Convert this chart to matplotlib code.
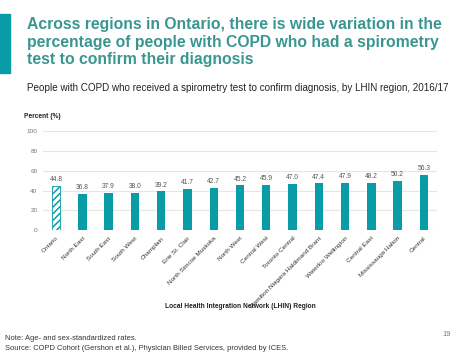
import matplotlib.pyplot as plt
import numpy as np

plt.rcParams['font.family'] = ['Liberation Sans', 'DejaVu Sans']
plt.rcParams['hatch.linewidth'] = 1.1

regions = ["Ontario", "North East", "South East", "South West", "Champlain",
           "Erie St. Clair", "North Simcoe Muskoka", "North West", "Central West",
           "Toronto Central", "Hamilton Niagara Haldimand Brant",
           "Waterloo Wellington", "Central East", "Mississauga Halton", "Central"]
percent = [44.8, 36.8, 37.9, 38.0, 39.2, 41.7, 42.7, 45.2, 45.9,
           47.0, 47.4, 47.9, 48.2, 50.2, 56.3]
yticks = [0, 20, 40, 60, 80, 100]

teal = "#0a9ca6"
title_col = "#3a9690"

fig = plt.figure(figsize=(4.74, 3.55), dpi=100)

# barre verticale a gauche du titre
fig.patches.append(plt.Rectangle((0, 1 - 73/355), 10/474, 59/355,
                                 transform=fig.transFigure, color=teal))
fig.text(27/474, 1 - 17/355,
         "Across regions in Ontario, there is wide variation in the\n"
         "percentage of people with COPD who had a spirometry\n"
         "test to confirm their diagnosis",
         fontsize=11.3, fontweight='bold', color=title_col, va='top',
         linespacing=1.22)
fig.text(27/474, 1 - 88/355,
         "People with COPD who received a spirometry test to confirm diagnosis, by LHIN region, 2016/17",
         fontsize=7.1, va='center', color='#222222')

ax = fig.add_axes([43/474, 1 - 230/355, 394/474, 98.5/355])
x = np.arange(len(regions))
bars = ax.bar(x, percent, width=0.32, color=teal, zorder=3)
bars[0].set_facecolor('white')
bars[0].set_edgecolor(teal)
bars[0].set_hatch('/////')
bars[0].set_linewidth(0.6)

for xi, v in zip(x, percent):
    ax.text(xi, v + 2.5, f"{v:.1f}", ha='center', va='bottom',
            fontsize=4.8, color='#555555')

ax.set_xlim(-0.5, len(regions) - 0.5)
ax.set_ylim(0, 100)
ax.set_yticks(yticks)
ax.set_yticklabels([str(t) for t in yticks], fontsize=4.6, color='#777777')
ax.yaxis.grid(True, color='#e6e6e6', linewidth=0.8, zorder=0)
ax.set_xticks(x)
ax.set_xticklabels(regions, rotation=45, ha='right', rotation_mode='anchor',
                   fontsize=4.6, color='#333333')
ax.tick_params(length=0, pad=4)
for s in ax.spines.values():
    s.set_visible(False)

fig.text(24/474, 1 - 116/355, "Percent (%)", fontsize=4.8, fontweight='bold',
         va='center', color='#222222')
fig.text(240/474, 1 - 307/355, "Local Health Integration Network (LHIN) Region",
         fontsize=4.8, fontweight='bold', ha='center', va='center', color='#222222')

fig.text(5/474, 1 - 338/355, "Note: Age- and sex-standardized rates.",
         fontsize=5.4, va='center', color='#333333')
fig.text(5/474, 1 - 348/355,
         "Source: COPD Cohort (Gershon et al.), Physician Billed Services, provided by ICES.",
         fontsize=5.4, va='center', color='#333333')
fig.text(447/474, 1 - 334/355, "19", fontsize=5.4, ha='center', va='center',
         color=title_col)

fig.savefig("out.png", dpi=100)
